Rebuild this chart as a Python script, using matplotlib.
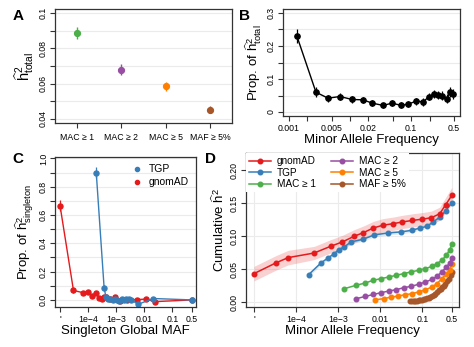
import matplotlib
matplotlib.use("Agg")
import matplotlib.pyplot as plt
import numpy as np

plt.rcParams['font.family'] = ['Liberation Sans', 'DejaVu Sans']
plt.rcParams['mathtext.fontset'] = 'custom'
plt.rcParams['mathtext.rm'] = 'Liberation Sans'
plt.rcParams['mathtext.it'] = 'Liberation Sans:italic'

# ---- colours
C_GREEN = "#4daf4a"
C_PURPLE = "#984ea3"
C_ORANGE = "#ff7f00"
C_BROWN = "#a65628"
C_RED = "#e41a1c"
C_BLUE = "#377eb8"

# ---- panel A
a_labels = ["MAC ≥ 1", "MAC ≥ 2", "MAC ≥ 5", "MAF ≥ 5%"]
a_vals = [0.0887, 0.068, 0.0585, 0.0452]
a_err = [0.0035, 0.003, 0.0025, 0.002]

# ---- panel B
b_maf = [0.00135, 0.00277, 0.00436, 0.00686, 0.0108, 0.0163, 0.023, 0.0348, 0.0488,
         0.0686, 0.0893, 0.121, 0.157, 0.197, 0.238, 0.277, 0.322, 0.389, 0.436, 0.49]
b_prop = [0.23, 0.06, 0.042, 0.047, 0.038, 0.037, 0.027, 0.02, 0.027, 0.02,
          0.024, 0.033, 0.031, 0.047, 0.055, 0.052, 0.05, 0.04, 0.06, 0.055]
b_err = [0.02, 0.015, 0.011, 0.011, 0.011, 0.01, 0.009, 0.008, 0.009, 0.009,
         0.01, 0.011, 0.012, 0.012, 0.013, 0.013, 0.014, 0.014, 0.015, 0.015]

# ---- panel C
c_red_maf = [1e-5, 3.0e-5, 6.3e-5, 9.5e-5, 1.36e-4, 1.88e-4, 2.5e-4, 3.1e-4, 3.7e-4,
             4.4e-4, 5.8e-4, 9.2e-4, 1.4e-3, 2.4e-3, 5.5e-3, 1.1e-2, 2.4e-2, 0.5]
c_red_prop = [0.665, 0.067, 0.052, 0.057, 0.031, 0.048, 0.012, 0.005, 0.019,
              0.022, 0.005, 0.018, -0.008, 0.002, 0.002, 0.006, -0.012, 0.0]
c_red_err = [0.04, 0.015, 0.012, 0.012, 0.012, 0.012, 0.01, 0.01, 0.01,
             0.01, 0.01, 0.01, 0.01, 0.01, 0.01, 0.01, 0.01, 0.005]
c_blue_maf = [1.94e-4, 3.7e-4, 4.3e-4, 5.0e-4, 6.0e-4, 7.5e-4, 9.0e-4, 1.1e-3, 1.3e-3,
              1.6e-3, 1.9e-3, 2.3e-3, 2.8e-3, 3.3e-3, 6.1e-3, 2.1e-2, 0.5]
c_blue_prop = [0.9, 0.085, 0.02, 0.01, 0.005, 0.0, 0.005, 0.0, -0.005,
               0.005, 0.0, 0.01, 0.005, 0.0, -0.03, 0.01, 0.0]
c_blue_err = [0.04, 0.02, 0.01, 0.01, 0.01, 0.01, 0.01, 0.01, 0.01,
              0.01, 0.01, 0.01, 0.01, 0.01, 0.01, 0.01, 0.005]

# ---- panel D
d_red_maf = [1e-5, 3.3e-5, 6.5e-5, 2.7e-4, 6.6e-4, 1.26e-3, 2.4e-3, 4.0e-3, 6.9e-3,
             0.0115, 0.02, 0.0335, 0.058, 0.098, 0.162, 0.257, 0.36, 0.5]
d_red_cum = [0.0434, 0.0596, 0.0677, 0.0747, 0.0848, 0.0914, 0.100, 0.1056, 0.1126,
             0.1167, 0.119, 0.1217, 0.124, 0.1258, 0.128, 0.134, 0.148, 0.162]
d_red_ci = [0.011, 0.011, 0.011, 0.010, 0.010, 0.010, 0.010, 0.010, 0.010,
            0.010, 0.010, 0.010, 0.010, 0.010, 0.010, 0.010, 0.011, 0.012]
d_blue_maf = [2.0e-4, 3.9e-4, 5.9e-4, 8.1e-4, 1.03e-3, 1.4e-3, 2.0e-3, 3.9e-3, 7.2e-3,
              0.015, 0.031, 0.056, 0.088, 0.128, 0.18, 0.26, 0.36, 0.5]
d_blue_cum = [0.042, 0.0596, 0.0677, 0.0737, 0.0798, 0.0838, 0.0914, 0.0955, 0.102,
              0.105, 0.1066, 0.109, 0.1126, 0.115, 0.1217, 0.129, 0.139, 0.151]
d_blue_ci = [0.003, 0.003, 0.003, 0.003, 0.003, 0.003, 0.003, 0.003, 0.003,
             0.003, 0.003, 0.003, 0.003, 0.003, 0.003, 0.003, 0.003, 0.003]
d_green_maf = [1.4e-3, 2.65e-3, 4.4e-3, 6.7e-3, 0.0104, 0.016, 0.024, 0.036, 0.053,
               0.081, 0.117, 0.17, 0.22, 0.29, 0.37, 0.45, 0.5]
d_green_cum = [0.0207, 0.0258, 0.0293, 0.0333, 0.0359, 0.0384, 0.041, 0.0435, 0.046,
               0.0485, 0.051, 0.0545, 0.0586, 0.0636, 0.0712, 0.0798, 0.0879]
d_purple_maf = [2.7e-3, 4.4e-3, 6.9e-3, 0.0104, 0.016, 0.024, 0.036, 0.053,
                0.081, 0.117, 0.17, 0.22, 0.29, 0.37, 0.45, 0.5]
d_purple_cum = [0.0056, 0.009, 0.012, 0.0146, 0.0172, 0.0192, 0.0222, 0.0242,
                0.0273, 0.0308, 0.0348, 0.0394, 0.046, 0.0535, 0.0596, 0.0677]
d_orange_maf = [7.6e-3, 0.0121, 0.018, 0.027, 0.039, 0.056, 0.081, 0.117, 0.17,
                0.22, 0.29, 0.37, 0.45, 0.5]
d_orange_cum = [0.004, 0.0056, 0.008, 0.0096, 0.0116, 0.0131, 0.0157, 0.0192, 0.0232,
                0.0283, 0.0359, 0.0434, 0.0495, 0.0586]
d_brown_maf = [0.05, 0.056, 0.062, 0.067, 0.074, 0.081, 0.089, 0.097, 0.107, 0.117,
               0.128, 0.14, 0.155, 0.17, 0.185, 0.2, 0.22, 0.245, 0.27, 0.29,
               0.32, 0.35, 0.39, 0.43, 0.47, 0.5]
d_brown_cum = [0.0018, 0.002, 0.0022, 0.0025, 0.0028, 0.003, 0.0035, 0.004, 0.0048, 0.0056,
               0.0063, 0.0071, 0.008, 0.009, 0.011, 0.013, 0.0155, 0.018, 0.0205, 0.023,
               0.0255, 0.028, 0.032, 0.036, 0.041, 0.046]

GRID = "#ebebeb"
TICK_FS = 6.3


def style_axes(ax):
    for s in ax.spines.values():
        s.set_linewidth(0.9)
        s.set_color("#333333")
    ax.tick_params(length=3.5, width=0.8, color="#333333", labelsize=TICK_FS, pad=2)
    ax.tick_params(axis='y', pad=1.5)
    ax.set_axisbelow(True)


def set_yticks(ax, ticks, labels):
    ax.set_yticks(ticks)
    ax.set_yticklabels(labels, rotation=90, va='center')
    ax.yaxis.grid(True, color=GRID, lw=0.8)


fig = plt.figure(figsize=(4.74, 3.47), dpi=100)

# ---------------- A
axA = fig.add_axes([55 / 474, 1 - 123 / 347, 177 / 474, 114 / 347])
style_axes(axA)
colsA = [C_GREEN, C_PURPLE, C_ORANGE, C_BROWN]
for i, (v, e, c) in enumerate(zip(a_vals, a_err, colsA)):
    axA.errorbar(i, v, yerr=e, fmt='o', color=c, ms=4.2, elinewidth=1.0, capsize=0)
axA.set_xlim(-0.5, 3.5)
axA.set_ylim(0.0377, 0.1023)
axA.set_xticks(range(4))
axA.set_xticklabels(a_labels)
axA.tick_params(axis='x', pad=4)
yt = [0.04, 0.05, 0.06, 0.07, 0.08, 0.09, 0.10]
set_yticks(axA, yt, ["0.04", "", "0.06", "", "0.08", "", "0.1"])
axA.set_ylabel(r'$\widehat{\mathrm{h}}^2_{\mathrm{total}}$', fontsize=10.5, labelpad=2)

# ---------------- B
axB = fig.add_axes([283 / 474, 1 - 116 / 347, 177 / 474, 107 / 347])
style_axes(axB)
axB.errorbar(b_maf, b_prop, yerr=b_err, fmt='-o', color='black', ms=3.8,
             lw=1.0, elinewidth=0.9, capsize=0)
axB.set_xscale('log')
axB.set_xlim(8e-4, 0.63)
axB.set_ylim(-0.012, 0.312)
bt = [0.001, 0.002, 0.005, 0.01, 0.02, 0.05, 0.1, 0.2, 0.5]
axB.set_xticks(bt)
axB.set_xticklabels(["0.001", "", "0.005", "", "0.02", "", "0.1", "", "0.5"])
axB.xaxis.set_minor_locator(matplotlib.ticker.NullLocator())
set_yticks(axB, [0, 0.05, 0.1, 0.15, 0.2, 0.25, 0.3], ["0", "", "0.1", "", "0.2", "", "0.3"])
axB.set_xlabel("Minor Allele Frequency", fontsize=9.5, labelpad=1)
axB.set_ylabel(r'Prop. of $\widehat{\mathrm{h}}^2_{\mathrm{total}}$', fontsize=9.5, labelpad=2)

# ---------------- C
axC = fig.add_axes([55 / 474, 1 - 307 / 347, 141 / 474, 150 / 347])
style_axes(axC)
axC.errorbar(c_red_maf, c_red_prop, yerr=c_red_err, fmt='-o', color=C_RED, ms=3.6,
             lw=1.0, elinewidth=0.9, capsize=0, label="gnomAD")
axC.errorbar(c_blue_maf, c_blue_prop, yerr=c_blue_err, fmt='-o', color=C_BLUE, ms=3.6,
             lw=1.0, elinewidth=0.9, capsize=0, label="TGP")
axC.set_xscale('log')
axC.set_xlim(6.6e-6, 0.69)
axC.set_ylim(-0.05, 1.01)
axC.set_xticks([1e-5, 1e-4, 1e-3, 0.01, 0.1, 0.5])
axC.set_xticklabels(["'", "1e\u22124", "1e\u22123", "0.01", "0.1", "0.5"])
axC.xaxis.set_minor_locator(matplotlib.ticker.NullLocator())
set_yticks(axC, np.round(np.arange(0, 1.01, 0.1), 1),
           ["0.0", "", "0.2", "", "0.4", "", "0.6", "", "0.8", "", "1.0"])
axC.set_xlabel("Singleton Global MAF", fontsize=9.5, labelpad=1)
axC.set_ylabel(r'Prop. of $\widehat{\mathrm{h}}^2_{\mathrm{singleton}}$', fontsize=9.5, labelpad=2)
hC, lC = axC.get_legend_handles_labels()
legC = axC.legend([hC[1][0], hC[0][0]], ["TGP", "gnomAD"], loc='upper right',
                  frameon=False, fontsize=7.5, handlelength=0.6, handletextpad=0.8,
                  borderaxespad=0.3, labelspacing=0.3, bbox_to_anchor=(1.0, 1.0))
for h in legC.legend_handles:
    h.set_linestyle('None')
    h.set_markersize(3.0)

# ---------------- D
axD = fig.add_axes([246 / 474, 1 - 307 / 347, 213 / 474, 154 / 347])
style_axes(axD)
axD.set_xscale('log')
axD.fill_between(d_red_maf, np.array(d_red_cum) - np.array(d_red_ci),
                 np.array(d_red_cum) + np.array(d_red_ci), color=C_RED, alpha=0.2, lw=0)
axD.fill_between(d_blue_maf, np.array(d_blue_cum) - np.array(d_blue_ci),
                 np.array(d_blue_cum) + np.array(d_blue_ci), color=C_BLUE, alpha=0.15, lw=0)
series = [
    (d_red_maf, d_red_cum, C_RED, "gnomAD"),
    (d_blue_maf, d_blue_cum, C_BLUE, "TGP"),
    (d_green_maf, d_green_cum, C_GREEN, "MAC ≥ 1"),
    (d_purple_maf, d_purple_cum, C_PURPLE, "MAC ≥ 2"),
    (d_orange_maf, d_orange_cum, C_ORANGE, "MAC ≥ 5"),
    (d_brown_maf, d_brown_cum, C_BROWN, "MAF ≥ 5%"),
]
handles = []
for i, (x, y, c, lab) in enumerate(series):
    h, = axD.plot(x, y, '-o', color=c, ms=3.3, lw=1.1, label=lab, zorder=10 - i)
    handles.append(h)
axD.set_xlim(6.5e-6, 0.74)
axD.set_ylim(-0.007, 0.226)
axD.set_xticks([1e-5, 1e-4, 1e-3, 0.01, 0.1, 0.5])
axD.set_xticklabels(["'", "1e\u22124", "1e\u22123", "0.01", "0.1", "0.5"])
axD.xaxis.set_minor_locator(matplotlib.ticker.NullLocator())
set_yticks(axD, [0, 0.05, 0.1, 0.15, 0.2], ["0.00", "0.05", "0.10", "0.15", "0.20"])
axD.xaxis.grid(True, color=GRID, lw=0.8)
axD.set_xlabel("Minor Allele Frequency", fontsize=9.5, labelpad=1)
axD.set_ylabel(r'Cumulative $\widehat{\mathrm{h}}^2$', fontsize=9.5, labelpad=2)
legD = axD.legend(handles, [s[3] for s in series], ncol=2, loc='upper left',
                  frameon=True, fontsize=7.2, handlelength=2.2, handletextpad=0.6,
                  columnspacing=1.5, labelspacing=0.15, borderaxespad=0.0,
                  borderpad=0.3, fancybox=False)
legD.get_frame().set_edgecolor('none')
legD.get_frame().set_facecolor('white')
legD.get_frame().set_alpha(1.0)

# ---------------- panel letters
for lab, x, y in [("A", 18, 16), ("B", 244, 16), ("C", 18, 159), ("D", 211, 159)]:
    fig.text(x / 474, 1 - y / 347, lab, fontsize=11, fontweight='bold',
             ha='center', va='center')

fig.savefig("out.png", dpi=100)
